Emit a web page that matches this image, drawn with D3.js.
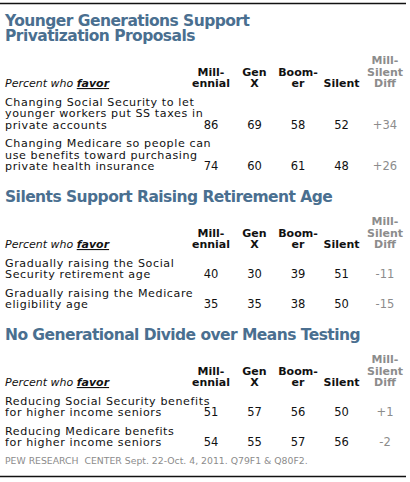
<!DOCTYPE html>
<html>
<head>
<meta charset="utf-8">
<script src="https://cdn.jsdelivr.net/npm/d3@7"></script>
<style>
  body { margin: 0; background: #fff; }
  svg text { font-family: "DejaVu Sans", Verdana, sans-serif; }
</style>
</head>
<body>
<div id="chart"></div>
<script>
const titles = [
  ['Younger Generations Support', 'Privatization Proposals'],
  ['Silents Support Raising Retirement Age'],
  ['No Generational Divide over Means Testing']
];

const generations = ['Millennial', 'Gen X', 'Boomer', 'Silent'];
const genHeaders = [['Mill-', 'ennial'], ['Gen', 'X'], ['Boom-', 'er'], ['Silent']];
const diffHeader = ['Mill-', 'Silent', 'Diff'];

const items = [
  [['Changing Social Security to let', 'younger workers put SS taxes in', 'private accounts'],
   ['Changing Medicare so people can', 'use benefits toward purchasing', 'private health insurance']],
  [['Gradually raising the Social', 'Security retirement age'],
   ['Gradually raising the Medicare', 'eligibility age']],
  [['Reducing Social Security benefits', 'for higher income seniors'],
   ['Reducing Medicare benefits', 'for higher income seniors']]
];

const millennial = [86, 74, 40, 35, 51, 54];
const genX       = [69, 60, 30, 35, 57, 55];
const boomer     = [58, 61, 39, 38, 56, 57];
const silent     = [52, 48, 51, 50, 50, 56];
const diff       = ['+34', '+26', '-11', '-15', '+1', '-2'];

const source = 'PEW RESEARCH  CENTER Sept. 22-Oct. 4, 2011. Q79F1 & Q80F2.';

const width = 410, height = 482;
const blue = '#4a6f90', grey = '#8c8c8c';
const lineH = 11.5;
const titleH = 15;

const svg = d3.select('#chart').append('svg')
  .attr('width', width)
  .attr('height', height);

// column positions
const xScale = d3.scalePoint()
  .domain(generations.concat(['Diff']))
  .range([211, 385]);

svg.append('line')
  .attr('x1', 0).attr('x2', 406)
  .attr('y1', 3.5).attr('y2', 3.5)
  .attr('stroke', '#111').attr('stroke-width', 1.5);

let y = 26;
let row = 0;

titles.forEach((t, s) => {
  // section title, one text block with a tspan per line
  const title = svg.append('text')
    .attr('x', 5)
    .attr('y', y)
    .attr('fill', blue)
    .attr('font-weight', 'bold')
    .attr('font-size', 15.5)
    .attr('letter-spacing', -0.55);
  t.forEach((line, i) => {
    title.append('tspan')
      .attr('x', 5)
      .attr('dy', i ? titleH : 0)
      .text(line);
  });
  y += (t.length - 1) * titleH + 46;

  // header row (bottom-aligned at y)
  const label = svg.append('text')
    .attr('x', 5).attr('y', y)
    .attr('font-size', 11)
    .attr('font-style', 'italic')
    .attr('fill', '#111');
  label.append('tspan').text('Percent who ');
  label.append('tspan')
    .attr('font-weight', 'bold')
    .attr('text-decoration', 'underline')
    .text('favor');

  generations.forEach((g, i) => {
    const lines = genHeaders[i];
    lines.forEach((l, j) => {
      svg.append('text')
        .attr('x', xScale(g))
        .attr('y', y - (lines.length - 1 - j) * lineH)
        .attr('text-anchor', 'middle')
        .attr('font-size', 11)
        .attr('font-weight', 'bold')
        .attr('fill', '#111')
        .text(l);
    });
  });
  diffHeader.forEach((l, j) => {
    svg.append('text')
      .attr('x', xScale('Diff'))
      .attr('y', y - (diffHeader.length - 1 - j) * lineH)
      .attr('text-anchor', 'middle')
      .attr('font-size', 11)
      .attr('font-weight', 'bold')
      .attr('fill', grey)
      .text(l);
  });

  // rows
  items[s].forEach((lines, k) => {
    y += 18.5;
    lines.forEach((l, j) => {
      svg.append('text')
        .attr('x', 5)
        .attr('y', y + j * lineH)
        .attr('font-size', 11.1)
        .attr('letter-spacing', 0.6)
        .attr('fill', '#111')
        .text(l);
    });
    y += (lines.length - 1) * lineH;
    const vals = [millennial[row], genX[row], boomer[row], silent[row]];
    generations.forEach((g, i) => {
      svg.append('text')
        .attr('x', xScale(g))
        .attr('y', y)
        .attr('text-anchor', 'middle')
        .attr('font-size', 11.5)
        .attr('fill', '#111')
        .text(vals[i]);
    });
    svg.append('text')
      .attr('x', xScale('Diff'))
      .attr('y', y)
      .attr('text-anchor', 'middle')
      .attr('font-size', 11.5)
      .attr('fill', grey)
      .text(diff[row]);
    row++;
  });

  y += 32;
});

svg.append('text')
  .attr('x', 5)
  .attr('y', 464)
  .attr('font-size', 9.3)
  .attr('fill', grey)
  .attr('xml:space', 'preserve')
  .text(source);

svg.append('line')
  .attr('x1', 0).attr('x2', 406)
  .attr('y1', 476.5).attr('y2', 476.5)
  .attr('stroke', '#111').attr('stroke-width', 1.5);
</script>
</body>
</html>
